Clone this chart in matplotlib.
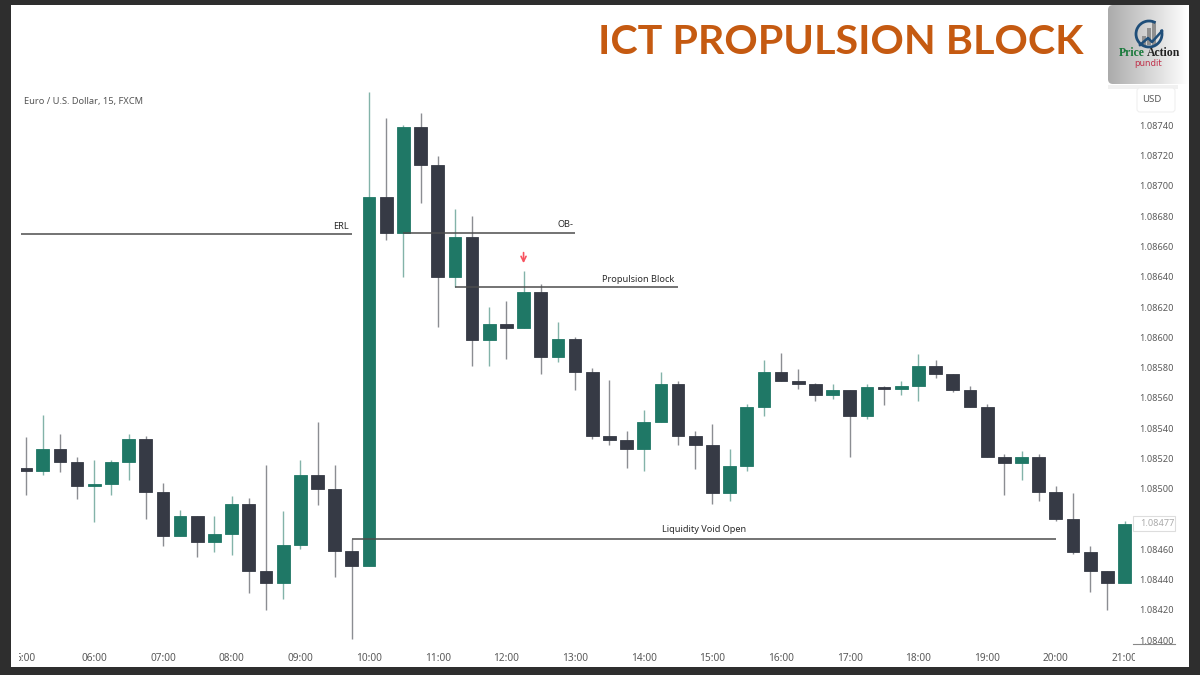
#!/usr/bin/env python3
"""ICT propulsion block slide: EUR/USD 15 minute candles with marked levels."""

import numpy as np
import matplotlib
matplotlib.use("Agg")
import matplotlib.pyplot as plt
from matplotlib.lines import Line2D
from matplotlib.patches import Arc, FancyBboxPatch, Rectangle
from matplotlib.transforms import Bbox

# OHLC values, 05:00 to 21:00 in 15 minute steps
opens = [
    1.08514, 1.08512, 1.08526, 1.08518, 1.08502, 1.08503, 1.08518, 1.08533,
    1.08498, 1.08469, 1.08482, 1.08465, 1.08470, 1.08490, 1.08446, 1.08438,
    1.08463, 1.08509, 1.08500, 1.08459, 1.08449, 1.08693, 1.08669, 1.08739,
    1.08714, 1.08640, 1.08666, 1.08598, 1.08609, 1.08606, 1.08630, 1.08587,
    1.08599, 1.08577, 1.08535, 1.08532, 1.08526, 1.08544, 1.08569, 1.08535,
    1.08529, 1.08497, 1.08515, 1.08554, 1.08577, 1.08571, 1.08569, 1.08562,
    1.08565, 1.08548, 1.08567, 1.08566, 1.08568, 1.08581, 1.08576, 1.08565,
    1.08554, 1.08521, 1.08517, 1.08521, 1.08498, 1.08480, 1.08458, 1.08446,
    1.08438,
]
closes = [
    1.08512, 1.08526, 1.08518, 1.08502, 1.08503, 1.08518, 1.08533, 1.08498,
    1.08469, 1.08482, 1.08465, 1.08470, 1.08490, 1.08446, 1.08438, 1.08463,
    1.08509, 1.08500, 1.08459, 1.08449, 1.08693, 1.08669, 1.08739, 1.08714,
    1.08640, 1.08666, 1.08598, 1.08609, 1.08606, 1.08630, 1.08587, 1.08599,
    1.08577, 1.08535, 1.08532, 1.08526, 1.08544, 1.08569, 1.08535, 1.08529,
    1.08497, 1.08515, 1.08554, 1.08577, 1.08571, 1.08569, 1.08562, 1.08565,
    1.08548, 1.08567, 1.08566, 1.08568, 1.08581, 1.08576, 1.08565, 1.08554,
    1.08521, 1.08517, 1.08521, 1.08498, 1.08480, 1.08458, 1.08446, 1.08438,
    1.08477,
]
highs = [
    1.08534, 1.08549, 1.08536, 1.08521, 1.08519, 1.08519, 1.08536, 1.08535,
    1.08504, 1.08486, 1.08482, 1.08482, 1.08495, 1.08494, 1.08516, 1.08485,
    1.08519, 1.08544, 1.08516, 1.08467, 1.08762, 1.08745, 1.08740, 1.08748,
    1.08720, 1.08685, 1.08680, 1.08620, 1.08624, 1.08644, 1.08635, 1.08610,
    1.08600, 1.08580, 1.08572, 1.08538, 1.08552, 1.08577, 1.08571, 1.08538,
    1.08543, 1.08526, 1.08556, 1.08585, 1.08590, 1.08579, 1.08570, 1.08569,
    1.08565, 1.08569, 1.08568, 1.08571, 1.08589, 1.08585, 1.08576, 1.08568,
    1.08556, 1.08523, 1.08525, 1.08523, 1.08502, 1.08497, 1.08462, 1.08446,
    1.08479,
]
lows = [
    1.08496, 1.08509, 1.08511, 1.08493, 1.08478, 1.08496, 1.08506, 1.08480,
    1.08462, 1.08469, 1.08455, 1.08458, 1.08456, 1.08431, 1.08420, 1.08427,
    1.08460, 1.08489, 1.08442, 1.08401, 1.08449, 1.08664, 1.08640, 1.08689,
    1.08607, 1.08633, 1.08581, 1.08581, 1.08586, 1.08606, 1.08576, 1.08584,
    1.08565, 1.08533, 1.08529, 1.08514, 1.08512, 1.08544, 1.08529, 1.08513,
    1.08490, 1.08492, 1.08512, 1.08548, 1.08571, 1.08566, 1.08558, 1.08559,
    1.08521, 1.08546, 1.08555, 1.08562, 1.08558, 1.08573, 1.08564, 1.08554,
    1.08521, 1.08496, 1.08506, 1.08492, 1.08479, 1.08457, 1.08432, 1.08420,
    1.08438,
]

time_labels = ["5:00", "06:00", "07:00", "08:00", "09:00", "10:00", "11:00", "12:00", "13:00",
               "14:00", "15:00", "16:00", "17:00", "18:00", "19:00", "20:00", "21:00"]
price_ticks = [1.08400, 1.08420, 1.08440, 1.08460, 1.08480, 1.08500, 1.08520, 1.08540, 1.08560,
               1.08580, 1.08600, 1.08620, 1.08640, 1.08660, 1.08680, 1.08700, 1.08720, 1.08740]
last_price = 1.08477

# marked levels: name, price, first candle, last candle
level_names = ["ERL", "OB-", "Propulsion Block", "Liquidity Void Open"]
level_prices = [1.08668, 1.08669, 1.08633, 1.08467]
level_starts = [-0.27, 22, 25, 19]
level_ends = [19, 32, 38, 60]

UP = "#1f7866"
DOWN = "#363a45"
UP_WICK = "#83b3a9"
DOWN_WICK = "#8b8d92"
LINE = "#4d4d4d"
AXIS_TEXT = "#5a5a5a"
FONT = "Noto Sans"


def px_rect(left, top, right, bottom):
    """Figure fractions for an axes given in pixels from the top left corner."""
    return [left / 1200, 1 - bottom / 675, (right - left) / 1200, (bottom - top) / 675]


fig = plt.figure(figsize=(12, 6.75), dpi=100, facecolor="#2e2e2e")

# slide background in pixel coordinates
bg = fig.add_axes([0, 0, 1, 1])
bg.axis("off")
bg.add_patch(Rectangle((11, 5), 1178, 662, facecolor="white", edgecolor="none"))

# logo card
bg.add_patch(Rectangle((1108, 85), 70, 4, facecolor="#f1f1f1", edgecolor="none"))
gradient = np.linspace(0.67, 1.0, 256).reshape(1, -1)
img = bg.imshow(gradient, extent=(1108, 1189, 84, 5), cmap="gray", vmin=0, vmax=1,
                aspect="auto", zorder=1.5)
img.set_clip_path(FancyBboxPatch((1108, 5), 90, 79, boxstyle="round,pad=0,rounding_size=5",
                                 transform=bg.transData))
bg.set_xlim(0, 1200)
bg.set_ylim(675, 0)
for bar_x, bar_top in zip([1142, 1147, 1152], [36, 28, 21]):
    bg.add_patch(Rectangle((bar_x, bar_top), 3.8, 45 - bar_top, facecolor="#8f8f8f",
                           edgecolor="none", zorder=2))
bg.add_patch(Arc((1149, 34), 26, 26, theta1=-20, theta2=300, edgecolor="#1f4e79", linewidth=2, zorder=3))
bg.plot([1140, 1148, 1152, 1162], [45, 38, 42, 31], color="#1f4e79", linewidth=1.8, zorder=3)
bg.text(1119, 53.5, "Price", color="#1a7a3c", fontsize=8.5, fontweight="bold",
        family="Liberation Serif", ha="left", va="center", zorder=3)
bg.text(1147, 53.5, "Action", color="#222222", fontsize=8.5, fontweight="bold",
        family="Liberation Serif", ha="left", va="center", zorder=3)
bg.text(1148, 64, "pundit", color="#c0314a", fontsize=6.2, ha="center", va="center",
        family="DejaVu Sans", zorder=3)

bg.text(598, 42, "ICT PROPULSION BLOCK", color="#c55a11", fontsize=29.7, fontweight="bold",
        family="Lato", ha="left", va="center", zorder=3)

# chart axes, the pane starts at x=21 and cuts the first candle
ax = fig.add_axes(px_rect(21, 90, 1135, 645), facecolor="none")
x = np.arange(len(opens))
o = np.array(opens)
c = np.array(closes)
rising = c >= o
ax.vlines(x, lows, highs, colors=[UP_WICK if r else DOWN_WICK for r in rising], linewidth=1.0, zorder=2)
ax.bar(x, np.abs(c - o), bottom=np.minimum(o, c), width=0.74,
       color=[UP if r else DOWN for r in rising], linewidth=0.6,
       edgecolor=[UP if r else DOWN for r in rising], zorder=3)

ax.set_xlim(-0.268, 64.61)
ax.set_ylim(1.083968, 1.087634)

for name, price, start, end in zip(level_names, level_prices, level_starts, level_ends):
    ax.plot([start, end], [price, price], color=LINE, linewidth=1.1, zorder=4, solid_capstyle="butt")

text_style = dict(color="#2a2a2a", fontsize=6.6, fontweight="bold", family=FONT, va="bottom", zorder=5)
ax.text(18.83, level_prices[0] + 0.000024, level_names[0], ha="right", **text_style)
ax.text(31.9, level_prices[1] + 0.000024, level_names[1], ha="right", **text_style)
ax.text(37.8, level_prices[2] + 0.000024, level_names[2], ha="right", **text_style)
ax.text(39.5, level_prices[3] + 0.000033, level_names[3], ha="center", **text_style)

# red marker above the candle that taps the block
ax.annotate("", xy=(29, 1.08649), xytext=(29, 1.08656), zorder=5,
            arrowprops=dict(arrowstyle="->", color="#f7525f", linewidth=1.2, mutation_scale=9,
                            shrinkA=0, shrinkB=0))

ax.text(0.0027, 1.08756, "Euro / U.S. Dollar, 15, FXCM", color="#555555", fontsize=6.7, family=FONT,
        va="center", ha="left", transform=ax.get_yaxis_transform())

for side in ax.spines.values():
    side.set_visible(False)

ax.yaxis.tick_right()
ax.set_yticks(price_ticks)
ax.set_yticklabels([f"{p:.5f}" for p in price_ticks], fontsize=6.6, family=FONT, color=AXIS_TEXT)
ax.tick_params(axis="y", length=0, pad=3)

ax.set_xticks(np.arange(0, 65, 4))
ax.set_xticklabels(time_labels, fontsize=7.3, family=FONT, color=AXIS_TEXT)
ax.tick_params(axis="x", length=0, pad=5.5)

# labels at both ends of the time axis are cut off by the pane
pane = Bbox.from_extents(19, 0, 1135, 675)
for label in ax.get_xticklabels():
    label.set_clip_box(pane)
    label.set_clip_on(True)

# last price flag covers the tick label under it
price_axis = ax.get_yaxis_transform()
ax.add_patch(Rectangle((0.9982, last_price - 0.00005), 0.0377, 0.0001, transform=price_axis,
                       facecolor="white", edgecolor="#dddddd", linewidth=0.8, clip_on=False, zorder=6))
ax.text(1.00449, last_price, f"{last_price:.5f}", color="#aaaaaa", fontsize=6.6, family=FONT,
        va="center", ha="left", transform=price_axis, zorder=7)

# USD box and scale underline
bg.add_patch(FancyBboxPatch((1137, 88), 38, 24, boxstyle="round,pad=0,rounding_size=3",
                            facecolor="white", edgecolor="#f0f0f0", linewidth=0.8, zorder=2))
bg.text(1152, 100, "USD", color=AXIS_TEXT, fontsize=6.9, family=FONT, ha="center", va="center", zorder=3)
fig.add_artist(Line2D([1133 / 1200, 1175 / 1200], [1 - 644 / 675, 1 - 644 / 675], color="#888888", linewidth=0.8))

fig.savefig("out.png", dpi=100, facecolor=fig.get_facecolor())
plt.close(fig)
